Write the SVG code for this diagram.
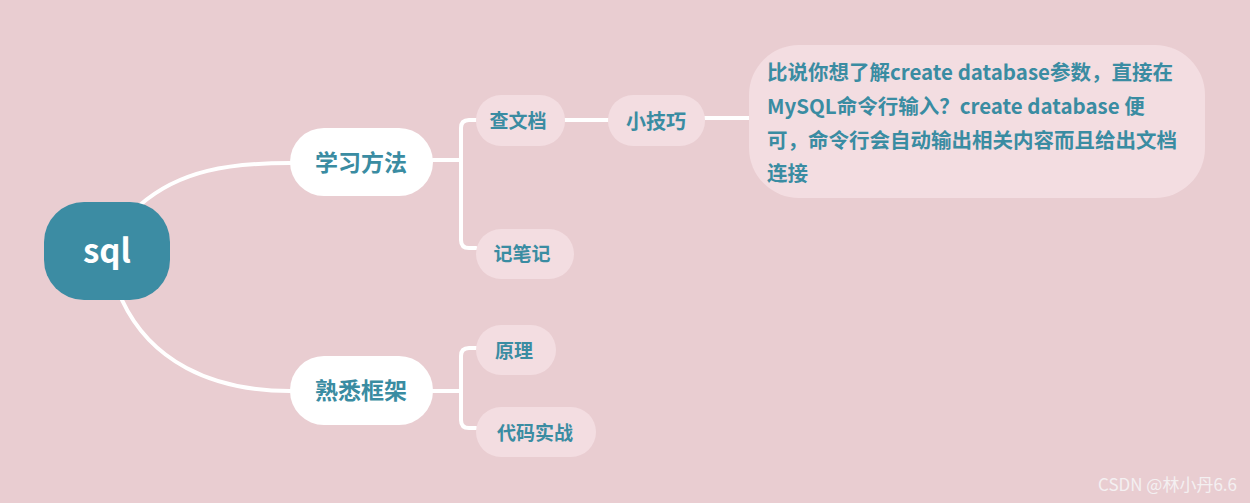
<svg xmlns="http://www.w3.org/2000/svg" width="1250" height="503" viewBox="0 0 1250 503">
<style>
text{font-family:"Noto Sans CJK SC","Noto Sans",sans-serif;font-weight:bold;fill:#3a8ca2}
.w{fill:#fff}
.sub{fill:#f3dde1}
.c{fill:none;stroke:#fff;stroke-width:4;stroke-linecap:round}
</style>
<rect width="1250" height="503" fill="#e9cdd1"/>
<g id="connectors">
<path class="c" d="M140 205 C180 170 230 163 290 163"/>
<path class="c" d="M122 300 C150 360 210 391 290 391"/>
<path class="c" d="M433 160 H461 M476 120 H469 Q461 120 461 128 V240 Q461 248 469 248 H476"/>
<path class="c" d="M433 391 H461 M476 348 H469 Q461 348 461 356 V420 Q461 428 469 428 H476"/>
<path class="c" d="M565 120 H608 M705 118 H749"/>
</g>
<g id="sql"><rect x="44" y="202" width="126" height="98" rx="40" fill="#3c8ca3"/><text x="107" y="263" font-size="33" text-anchor="middle" class="w">sql</text></g>
<g id="xxff"><rect x="290" y="128" width="143" height="68" rx="34" class="w"/><text x="361" y="171" font-size="23" text-anchor="middle">学习方法</text></g>
<g id="sxkj"><rect x="290" y="356" width="143" height="69" rx="34" class="w"/><text x="361" y="399" font-size="23" text-anchor="middle">熟悉框架</text></g>
<g id="cwd"><rect x="476" y="95" width="89" height="51" rx="25" class="sub"/><text x="518" y="128" font-size="19" text-anchor="middle">查文档</text></g>
<g id="jbj"><rect x="476" y="229" width="98" height="50" rx="25" class="sub"/><text x="522" y="261" font-size="19" text-anchor="middle">记笔记</text></g>
<g id="yl"><rect x="476" y="325" width="80" height="50" rx="25" class="sub"/><text x="514" y="358" font-size="19" text-anchor="middle">原理</text></g>
<g id="dmsz"><rect x="476" y="407" width="120" height="50" rx="25" class="sub"/><text x="535" y="440" font-size="19" text-anchor="middle">代码实战</text></g>
<g id="xjq"><rect x="608" y="95" width="97" height="51" rx="25" class="sub"/><text x="656" y="129" font-size="20" text-anchor="middle">小技巧</text></g>
<g id="tip"><rect x="749" y="45" width="456" height="153" rx="50" class="sub"/>
<text font-size="20.5"><tspan x="767" y="80">比说你想了解create database参数，直接在</tspan><tspan x="767" y="114">MySQL命令行输入？create database 便</tspan><tspan x="767" y="148">可，命令行会自动输出相关内容而且给出文档</tspan><tspan x="767" y="181">连接</tspan></text></g>
<text x="1237" y="491" font-size="17" text-anchor="end" style="font-weight:normal;fill:#f4f0f1">CSDN @林小丹6.6</text>
</svg>
